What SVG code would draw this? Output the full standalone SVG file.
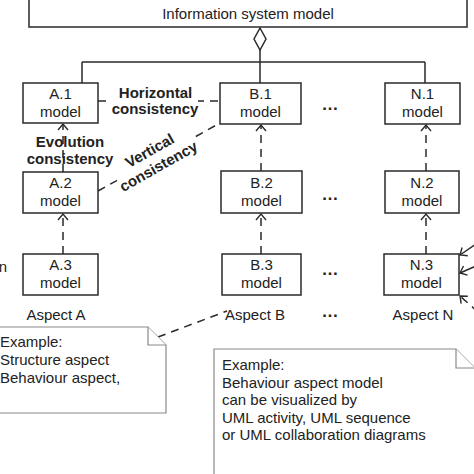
<svg xmlns="http://www.w3.org/2000/svg" width="474" height="474" viewBox="0 0 474 474">
<style>
  .box{fill:#fff;stroke:#2a2a2a;stroke-width:1.5}
  .note{fill:#fff;stroke:#8a8a8a;stroke-width:1.2}
  .t{font-family:"Liberation Sans",Arial,sans-serif;font-size:15px;fill:#222}
  .c{text-anchor:middle}
  .b{font-weight:bold}
  .dots{font-family:"Liberation Sans",Arial,sans-serif;font-size:17px;font-weight:bold;fill:#222;text-anchor:middle}
  .ln{fill:none;stroke:#2a2a2a;stroke-width:1.5}
  .dash{fill:none;stroke:#2a2a2a;stroke-width:1.5;stroke-dasharray:8 6}
</style>
<defs>
  <marker id="open" viewBox="-8 -7 10 14" markerWidth="10" markerHeight="14" refX="0" refY="0" orient="auto" markerUnits="userSpaceOnUse">
    <path d="M-6,-5 L0,0 L-6,5" fill="none" stroke="#2a2a2a" stroke-width="1.4"/>
  </marker>
</defs>

<g id="connectors">
  <polygon points="260,28 266,39 260,50 254,39" fill="#fff" stroke="#2a2a2a" stroke-width="1.5"/>
  <path class="ln" d="M260,50 V62 M82,62 H425 M82,62 V83 M260,62 V83 M425,62 V83"/>
  <line class="dash" x1="63" y1="254" x2="63" y2="214" marker-end="url(#open)"/>
  <line class="dash" x1="63" y1="172" x2="63" y2="124" marker-end="url(#open)"/>
  <line class="dash" x1="261" y1="254" x2="261" y2="214" marker-end="url(#open)"/>
  <line class="dash" x1="261" y1="171" x2="261" y2="125" marker-end="url(#open)"/>
  <line class="dash" x1="426" y1="254" x2="426" y2="214" marker-end="url(#open)"/>
  <line class="dash" x1="426" y1="171" x2="426" y2="125" marker-end="url(#open)"/>
  <line class="dash" x1="98" y1="101" x2="220" y2="101"/>
  <line class="dash" x1="98" y1="191" x2="220" y2="123"/>
  <line class="dash" x1="158" y1="337" x2="227" y2="311"/>
  <line class="ln" x1="476" y1="244" x2="460" y2="255" marker-end="url(#open)"/>
  <line class="ln" x1="476" y1="266" x2="460" y2="273" marker-end="url(#open)"/>
  <line class="dash" x1="478" y1="312" x2="460" y2="296" marker-end="url(#open)"/>
</g>

<g id="label-horizontal">
  <rect x="109" y="86" width="89" height="33" fill="#fff"/>
  <text class="t b c" x="155.5" y="98">Horizontal</text>
  <text class="t b c" x="155" y="114">consistency</text>
</g>
<g id="label-evolution">
  <text class="t b c" x="70" y="147">Evolution</text>
  <text class="t b c" x="70" y="164">consistency</text>
</g>
<g id="label-vertical" transform="translate(154.6,159.5) rotate(-29.5)">
  <rect x="-43" y="-17" width="88" height="34" fill="#fff"/>
  <text class="t b c" x="0" y="-5">Vertical</text>
  <text class="t b c" x="0" y="13">consistency</text>
</g>

<g id="information-system-model">
  <rect class="box" x="29" y="-1" width="438" height="28"/>
  <text class="t c" x="248" y="18.5">Information system model</text>
</g>

<g id="A1"><rect class="box" x="23" y="83" width="75" height="40"/><text class="t c" x="60.5" y="99">A.1</text><text class="t c" x="60.5" y="117">model</text></g>
<g id="B1"><rect class="box" x="220" y="83" width="81" height="41"/><text class="t c" x="260.5" y="99">B.1</text><text class="t c" x="260.5" y="117">model</text></g>
<g id="N1"><rect class="box" x="385" y="83" width="75" height="41"/><text class="t c" x="422.5" y="99">N.1</text><text class="t c" x="422.5" y="117">model</text></g>

<g id="A2"><rect class="box" x="23" y="172" width="75" height="41"/><text class="t c" x="60.5" y="188">A.2</text><text class="t c" x="60.5" y="206">model</text></g>
<g id="B2"><rect class="box" x="221" y="171" width="81" height="42"/><text class="t c" x="261.5" y="188">B.2</text><text class="t c" x="261.5" y="206">model</text></g>
<g id="N2"><rect class="box" x="385" y="171" width="74" height="42"/><text class="t c" x="422" y="188">N.2</text><text class="t c" x="422" y="206">model</text></g>

<g id="A3"><rect class="box" x="23" y="254" width="75" height="41"/><text class="t c" x="60.5" y="270">A.3</text><text class="t c" x="60.5" y="288">model</text></g>
<g id="B3"><rect class="box" x="222" y="254" width="79" height="41"/><text class="t c" x="261.5" y="270">B.3</text><text class="t c" x="261.5" y="288">model</text></g>
<g id="N3"><rect class="box" x="384" y="254" width="75" height="41"/><text class="t c" x="421.5" y="270">N.3</text><text class="t c" x="421.5" y="288">model</text></g>

<g id="aspect-labels">
  <text class="t c" x="56" y="320">Aspect A</text>
  <text class="t c" x="255" y="320">Aspect B</text>
  <text class="t c" x="423" y="320">Aspect N</text>
  <text class="dots" x="330" y="110">…</text>
  <text class="dots" x="330" y="200">…</text>
  <text class="dots" x="330" y="275">…</text>
  <text class="dots" x="330" y="317">…</text>
  <text class="t" x="7" y="272" text-anchor="end">n</text>
</g>

<g id="note-left">
  <path class="note" d="M-2,327 H148 L166,345 V413 H-2 Z"/>
  <path class="note" d="M148,327 V345 H166" fill="none"/>
  <text class="t" x="0" y="347">Example:</text>
  <text class="t" x="0" y="365">Structure aspect</text>
  <text class="t" x="0" y="383">Behaviour aspect,</text>
</g>

<g id="note-right">
  <path class="note" d="M214,349 H456 L475,368 V480 H214 Z"/>
  <path class="note" d="M456,349 V368 H475" fill="none"/>
  <text class="t" x="222" y="370">Example:</text>
  <text class="t" x="222" y="387.5">Behaviour aspect model</text>
  <text class="t" x="222" y="405">can be visualized by</text>
  <text class="t" x="222" y="422.5">UML activity, UML sequence</text>
  <text class="t" x="222" y="440">or UML collaboration diagrams</text>
</g>
</svg>
